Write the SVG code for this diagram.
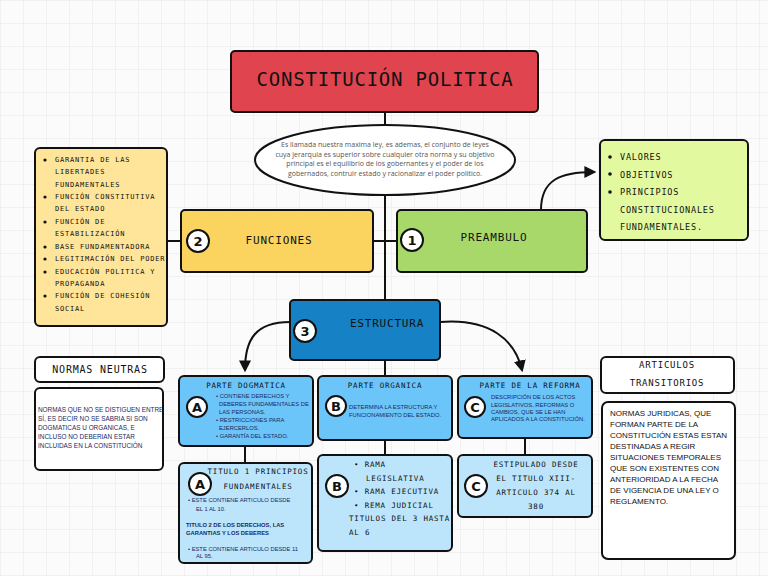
<svg xmlns="http://www.w3.org/2000/svg" width="768" height="576" viewBox="0 0 768 576">
<defs>
<pattern id="g" width="23" height="23" patternUnits="userSpaceOnUse"><path d="M23 0H0V23" fill="none" stroke="#e8e8e8" stroke-width="1"/></pattern>
<marker id="ar" viewBox="0 0 10 10" refX="8" refY="5" markerWidth="6" markerHeight="6" orient="auto"><path d="M0 0L10 5L0 10z" fill="#111"/></marker>
</defs>
<style>
.b{stroke:#111;stroke-width:2}
.h{font-family:"DejaVu Sans Mono","Liberation Mono",monospace;fill:#111;letter-spacing:0.8px}
.s{font-family:"Liberation Sans",Arial,sans-serif;fill:#1a2a60}
.n{font-family:"DejaVu Sans",sans-serif;font-weight:bold;fill:#111;text-anchor:middle}
.c{fill:#fff;stroke:#111;stroke-width:2}
.l{stroke:#111;stroke-width:2;fill:none}
</style>
<rect width="768" height="576" fill="#fbfbfb"/>
<rect width="768" height="576" fill="url(#g)"/>
<g id="connectors">
<line class="l" x1="385" y1="112" x2="385" y2="300"/>
<line class="l" x1="385" y1="360" x2="385" y2="376"/>
<line class="l" x1="166" y1="241" x2="181" y2="241"/>
<line class="l" x1="373" y1="241" x2="397" y2="241"/>
<path class="l" d="M541 210C541 180 560 172 594 172" marker-end="url(#ar)"/>
<path class="l" d="M290 322C255 322 245 340 245 370" marker-end="url(#ar)"/>
<path class="l" d="M440 322C490 318 515 340 522 370" marker-end="url(#ar)"/>
<line class="l" x1="245" y1="446" x2="245" y2="463"/>
<line class="l" x1="385" y1="440" x2="385" y2="455"/>
<line class="l" x1="525" y1="438" x2="525" y2="455"/>
</g>
<g id="title"><rect class="b" x="231" y="51" width="307" height="61" rx="4" fill="#e0454f"/><text class="h" x="385" y="86" font-size="19" text-anchor="middle" letter-spacing="2.5">CONSTITUCIÓN POLITICA</text></g>
<g id="definicion"><ellipse class="b" cx="385" cy="160" rx="130" ry="35" fill="#fff"/>
<text font-family="Open Sans,sans-serif" font-size="7" fill="#555" text-anchor="middle"><tspan x="385" y="147">Es llamada nuestra maxima ley, es ademas, el conjunto  de leyes</tspan><tspan x="385" y="157">cuya jerarquia es superior sobre cualquier otra norma y su objetivo</tspan><tspan x="385" y="166">principal es el equilibrio de los gobernantes y el poder de los</tspan><tspan x="385" y="176">gobernados, contruir estado y racionalizar el poder politico.</tspan></text></g>
<g id="funciones"><rect class="b" x="181" y="210" width="192" height="62" rx="4" fill="#fbd35f"/><circle class="c" cx="198" cy="241" r="11"/><text class="n" x="198" y="246" font-size="13">2</text><text class="h" x="279" y="244" font-size="11" text-anchor="middle" letter-spacing="1.5">FUNCIONES</text></g>
<g id="preambulo"><rect class="b" x="397" y="210" width="190" height="62" rx="4" fill="#a8d86a"/><circle class="c" cx="412" cy="240" r="11"/><text class="n" x="412" y="245" font-size="13">1</text><text class="h" x="494" y="241" font-size="11" text-anchor="middle" letter-spacing="1.5">PREAMBULO</text></g>
<g id="lista-funciones"><rect class="b" x="35" y="148" width="132" height="178" rx="5" fill="#fee59a"/>
<g fill="#111"><circle cx="45" cy="160" r="1.6"/><circle cx="45" cy="197" r="1.6"/><circle cx="45" cy="222" r="1.6"/><circle cx="45" cy="247" r="1.6"/><circle cx="45" cy="259" r="1.6"/><circle cx="45" cy="272" r="1.6"/><circle cx="45" cy="296" r="1.6"/></g>
<text class="h" font-size="7" letter-spacing="0.5"><tspan x="55" y="162">GARANTIA DE LAS</tspan><tspan x="55" y="174">LIBERTADES</tspan><tspan x="55" y="187">FUNDAMENTALES</tspan><tspan x="55" y="199">FUNCIÓN CONSTITUTIVA</tspan><tspan x="55" y="211">DEL ESTADO</tspan><tspan x="55" y="224">FUNCIÓN DE</tspan><tspan x="55" y="236">ESTABILIZACIÓN</tspan><tspan x="55" y="249">BASE FUNDAMENTADORA</tspan><tspan x="55" y="261">LEGITIMACIÓN DEL PODER</tspan><tspan x="55" y="274">EDUCACIÓN POLITICA Y</tspan><tspan x="55" y="286">PROPAGANDA</tspan><tspan x="55" y="298">FUNCIÓN DE COHESIÓN</tspan><tspan x="55" y="311">SOCIAL</tspan></text></g>
<g id="lista-preambulo"><rect class="b" x="600" y="140" width="148" height="100" rx="5" fill="#e3f9a0"/>
<g fill="#111"><circle cx="610" cy="157" r="1.8"/><circle cx="610" cy="174" r="1.8"/><circle cx="610" cy="192" r="1.8"/></g>
<text class="h" font-size="8.5" letter-spacing="0.9"><tspan x="620" y="160">VALORES</tspan><tspan x="620" y="178">OBJETIVOS</tspan><tspan x="620" y="195">PRINCIPIOS</tspan><tspan x="620" y="213">CONSTITUCIONALES</tspan><tspan x="620" y="230">FUNDAMENTALES.</tspan></text></g>
<g id="estructura"><rect class="b" x="290" y="300" width="150" height="60" rx="4" fill="#1681c4"/><circle class="c" cx="305" cy="331" r="11"/><text class="n" x="305" y="336" font-size="13">3</text><text class="h" x="387" y="327" font-size="11" text-anchor="middle" letter-spacing="1.5">ESTRUCTURA</text></g>
<g id="parte-dogmatica"><rect class="b" x="179" y="376" width="134" height="70" rx="5" fill="#6cc5f9"/><circle class="c" cx="197" cy="407" r="10"/><text class="n" x="197" y="412" font-size="13">A</text><text class="h" x="246" y="388" font-size="7.5" text-anchor="middle">PARTE DOGMATICA</text>
<text class="s" font-size="5.8"><tspan x="216" y="398">• CONTIENE DERECHOS Y</tspan><tspan x="219" y="406">DEBERES FUNDAMENTALES DE</tspan><tspan x="219" y="414">LAS PERSONAS.</tspan><tspan x="216" y="422">• RESTRICCIONES PARA</tspan><tspan x="219" y="430">EJERCERLOS.</tspan><tspan x="216" y="438">• GARANTÍA DEL ESTADO.</tspan></text></g>
<g id="parte-organica"><rect class="b" x="318" y="376" width="134" height="64" rx="5" fill="#6cc5f9"/><circle class="c" cx="336" cy="406" r="10"/><text class="n" x="336" y="411" font-size="13">B</text><text class="h" x="385" y="388" font-size="7.5" text-anchor="middle">PARTE ORGANICA</text>
<text class="s" font-size="5.8"><tspan x="349" y="409">DETERMINA LA ESTRUCTURA Y</tspan><tspan x="349" y="417">FUNCIONAMIENTO DEL ESTADO.</tspan></text></g>
<g id="parte-reforma"><rect class="b" x="458" y="376" width="134" height="62" rx="5" fill="#6cc5f9"/><circle class="c" cx="475" cy="407" r="10"/><text class="n" x="475" y="412" font-size="13">C</text><text class="h" x="530" y="388" font-size="7.5" text-anchor="middle">PARTE DE LA REFORMA</text>
<text class="s" font-size="5.8"><tspan x="491" y="399">DESCRIPCIÓN DE LOS ACTOS</tspan><tspan x="491" y="407">LEGISLATIVOS, REFORMAS O</tspan><tspan x="491" y="414">CAMBIOS, QUE SE LE HAN</tspan><tspan x="491" y="421">APLICADOS A LA CONSTITUCIÓN.</tspan></text></g>
<g id="titulo-dogmatica"><rect class="b" x="179" y="463" width="133" height="100" rx="5" fill="#bce5fb"/><circle class="c" cx="200" cy="484" r="11"/><text class="n" x="200" y="489" font-size="13">A</text>
<text class="h" font-size="7.5" text-anchor="middle" letter-spacing="0.4"><tspan x="258" y="474">TITULO  1 PRINCIPIOS</tspan><tspan x="258" y="489">FUNDAMENTALES</tspan></text>
<text class="s" font-size="5.8"><tspan x="188" y="502">•  ESTE CONTIENE ARTICULO DESDE</tspan><tspan x="196" y="511">EL 1 AL 10.</tspan><tspan x="186" y="527" font-weight="bold">TITULO 2 DE LOS DERECHOS, LAS</tspan><tspan x="186" y="535" font-weight="bold">GARANTIAS Y LOS DEBERES</tspan><tspan x="188" y="551">•  ESTE CONTIENE ARTICULO DESDE 11</tspan><tspan x="196" y="558">AL 95.</tspan></text></g>
<g id="ramas"><rect class="b" x="318" y="455" width="134" height="96" rx="5" fill="#bce5fb"/><circle class="c" cx="337" cy="486" r="11"/><text class="n" x="337" y="491" font-size="13">B</text>
<text class="h" font-size="7.5" letter-spacing="0.4"><tspan x="354" y="467">•  RAMA</tspan><tspan x="366" y="481">LEGISLATIVA</tspan><tspan x="354" y="494">•  RAMA EJECUTIVA</tspan><tspan x="354" y="508">•  REMA JUDICIAL</tspan><tspan x="349" y="521">TITULOS DEL 3 HASTA</tspan><tspan x="349" y="535">AL 6</tspan></text></g>
<g id="titulo-reforma"><rect class="b" x="458" y="455" width="134" height="62" rx="5" fill="#bce5fb"/><circle class="c" cx="476" cy="486" r="11"/><text class="n" x="476" y="491" font-size="13">C</text>
<text class="h" font-size="7.5" text-anchor="middle" letter-spacing="0.4"><tspan x="536" y="467">ESTIPULADO DESDE</tspan><tspan x="536" y="481">EL TITULO XIII-</tspan><tspan x="536" y="495">ARTICULO 374 AL</tspan><tspan x="536" y="509">380</tspan></text></g>
<g id="normas-neutras"><rect class="b" x="35" y="357" width="129" height="25" rx="5" fill="#fff"/><text class="h" x="100" y="373" font-size="10" text-anchor="middle" font-family="Liberation Sans,sans-serif" letter-spacing="1.2">NORMAS NEUTRAS</text></g>
<g id="normas-neutras-texto"><rect class="b" x="35" y="388" width="128" height="82" rx="5" fill="#fff"/>
<text class="s" font-size="6.4" fill="#222"><tspan x="38" y="412">NORMAS QUE NO SE DISTIGUEN ENTRE</tspan><tspan x="38" y="421">SÍ, ES DECIR NO SE SABRIA SI SON</tspan><tspan x="38" y="430">DOGMATICAS U ORGANICAS, E</tspan><tspan x="38" y="439">INCLUSO NO DEBERIAN ESTAR</tspan><tspan x="38" y="448">INCLUIDAS EN LA CONSTITUCIÓN</tspan></text></g>
<g id="articulos-transitorios"><rect class="b" x="601" y="357" width="133" height="36" rx="5" fill="#fff"/><text class="h" font-size="9" text-anchor="middle" letter-spacing="1.5"><tspan x="667" y="368">ARTICULOS</tspan><tspan x="667" y="386">TRANSITORIOS</tspan></text></g>
<g id="articulos-texto"><rect class="b" x="602" y="402" width="133" height="157" rx="6" fill="#fff"/>
<text font-family="Liberation Sans,sans-serif" font-size="8" fill="#111"><tspan x="610" y="416">NORMAS JURIDICAS, QUE</tspan><tspan x="610" y="427">FORMAN PARTE DE LA</tspan><tspan x="610" y="438">CONSTITUCIÓN ESTAS ESTAN</tspan><tspan x="610" y="449">DESTINADAS A REGIR</tspan><tspan x="610" y="460">SITUACIONES TEMPORALES</tspan><tspan x="610" y="471">QUE SON EXISTENTES CON</tspan><tspan x="610" y="482">ANTERIORIDAD A LA FECHA</tspan><tspan x="610" y="493">DE VIGENCIA DE UNA LEY O</tspan><tspan x="610" y="504">REGLAMENTO.</tspan></text></g>
</svg>
